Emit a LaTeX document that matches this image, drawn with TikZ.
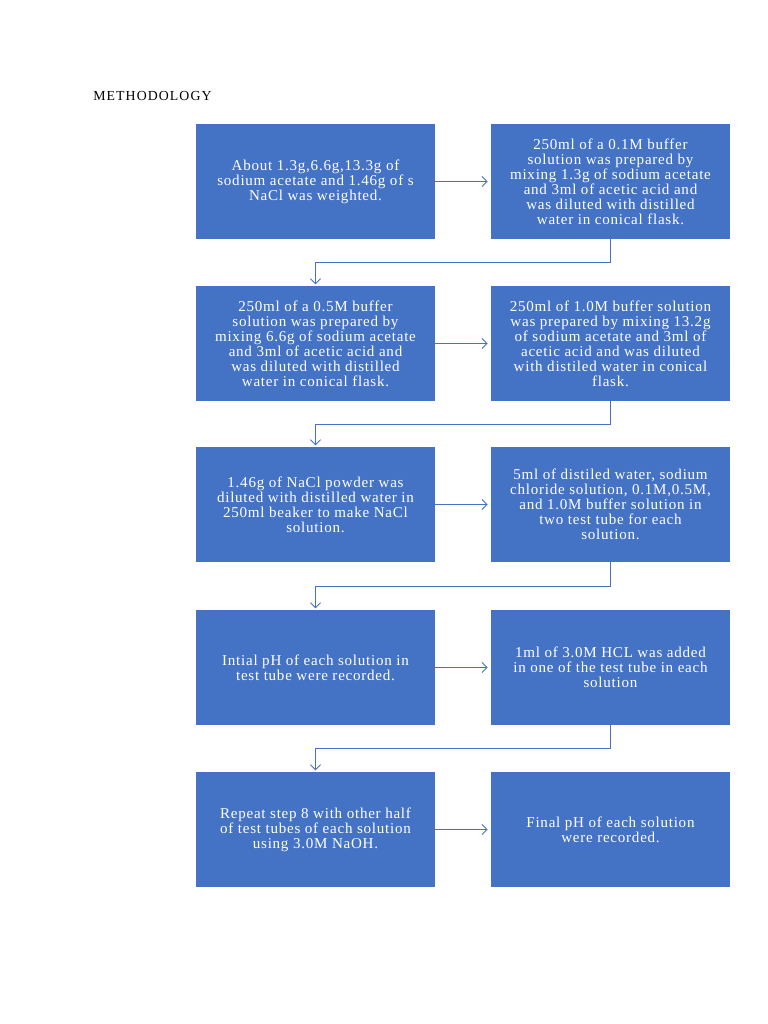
\documentclass[tikz,border=0pt]{standalone}
\usepackage{fontspec}
\setmainfont{Liberation Serif}[LetterSpace=5.0]
\newfontfamily\titlefont{Liberation Serif}[LetterSpace=8.0]
\usetikzlibrary{arrows.meta}
\definecolor{boxblue}{HTML}{4472C4}
\begin{document}
\begin{tikzpicture}[x=0.797pt,y=-0.797pt,
  stepbox/.style={fill=boxblue, text=white, minimum width=190.5pt, minimum height=91.7pt,
    inner sep=0pt, align=center, font=\fontsize{12}{12}\selectfont},
  conn/.style={draw=boxblue, line width=0.8pt, -{Straight Barb[length=4pt,width=8pt]}},
  elbow/.style={conn, shorten >=1pt},
  side/.style={conn, shorten >=2.4pt}]
\fill[white] (0,0) rectangle (768,1024);
\useasboundingbox (0,0) rectangle (768,1024);
\node[anchor=west, inner sep=0pt, font=\titlefont\fontsize{11}{12}\selectfont] (title) at (93,96) {METHODOLOGY};

\node[stepbox] (a1) at (315.5,181.5) {About 1.3g,6.6g,13.3g of\\sodium acetate and 1.46g of s\\NaCl was weighted.};
\node[stepbox] (b1) at (610.5,181.5) {250ml of a 0.1M buffer\\solution was prepared by\\mixing 1.3g of sodium acetate\\and 3ml of acetic acid and\\was diluted with distilled\\water in conical flask.};
\node[stepbox] (a2) at (315.5,343.5) {250ml of a 0.5M buffer\\solution was prepared by\\mixing 6.6g of sodium acetate\\and 3ml of acetic acid and\\was diluted with distilled\\water in conical flask.};
\node[stepbox] (b2) at (610.5,343.5) {250ml of 1.0M buffer solution\\was prepared by mixing 13.2g\\of sodium acetate and 3ml of\\acetic acid and was diluted\\with distiled water in conical\\flask.};
\node[stepbox] (a3) at (315.5,504.5) {1.46g of NaCl powder was\\diluted with distilled water in\\250ml beaker to make NaCl\\solution.};
\node[stepbox] (b3) at (610.5,504.5) {5ml of distiled water, sodium\\chloride solution, 0.1M,0.5M,\\and 1.0M buffer solution in\\two test tube for each\\solution.};
\node[stepbox] (a4) at (315.5,667.5) {Intial pH of each solution in\\test tube were recorded.};
\node[stepbox] (b4) at (610.5,667.5) {1ml of 3.0M HCL was added\\in one of the test tube in each\\solution};
\node[stepbox] (a5) at (315.5,829.5) {Repeat step 8 with other half\\of test tubes of each solution\\using 3.0M NaOH.};
\node[stepbox] (b5) at (610.5,829.5) {Final pH of each solution\\were recorded.};

\draw[side] (a1) -- (b1);
\draw[side] (a2) -- (b2);
\draw[side] (a3) -- (b3);
\draw[side] (a4) -- (b4);
\draw[side] (a5) -- (b5);

\draw[elbow] (b1.south) -- ++(0,23.5) -| (a2.north);
\draw[elbow] (b2.south) -- ++(0,23) -| (a3.north);
\draw[elbow] (b3.south) -- ++(0,24) -| (a4.north);
\draw[elbow] (b4.south) -- ++(0,23.5) -| (a5.north);
\end{tikzpicture}
\end{document}
